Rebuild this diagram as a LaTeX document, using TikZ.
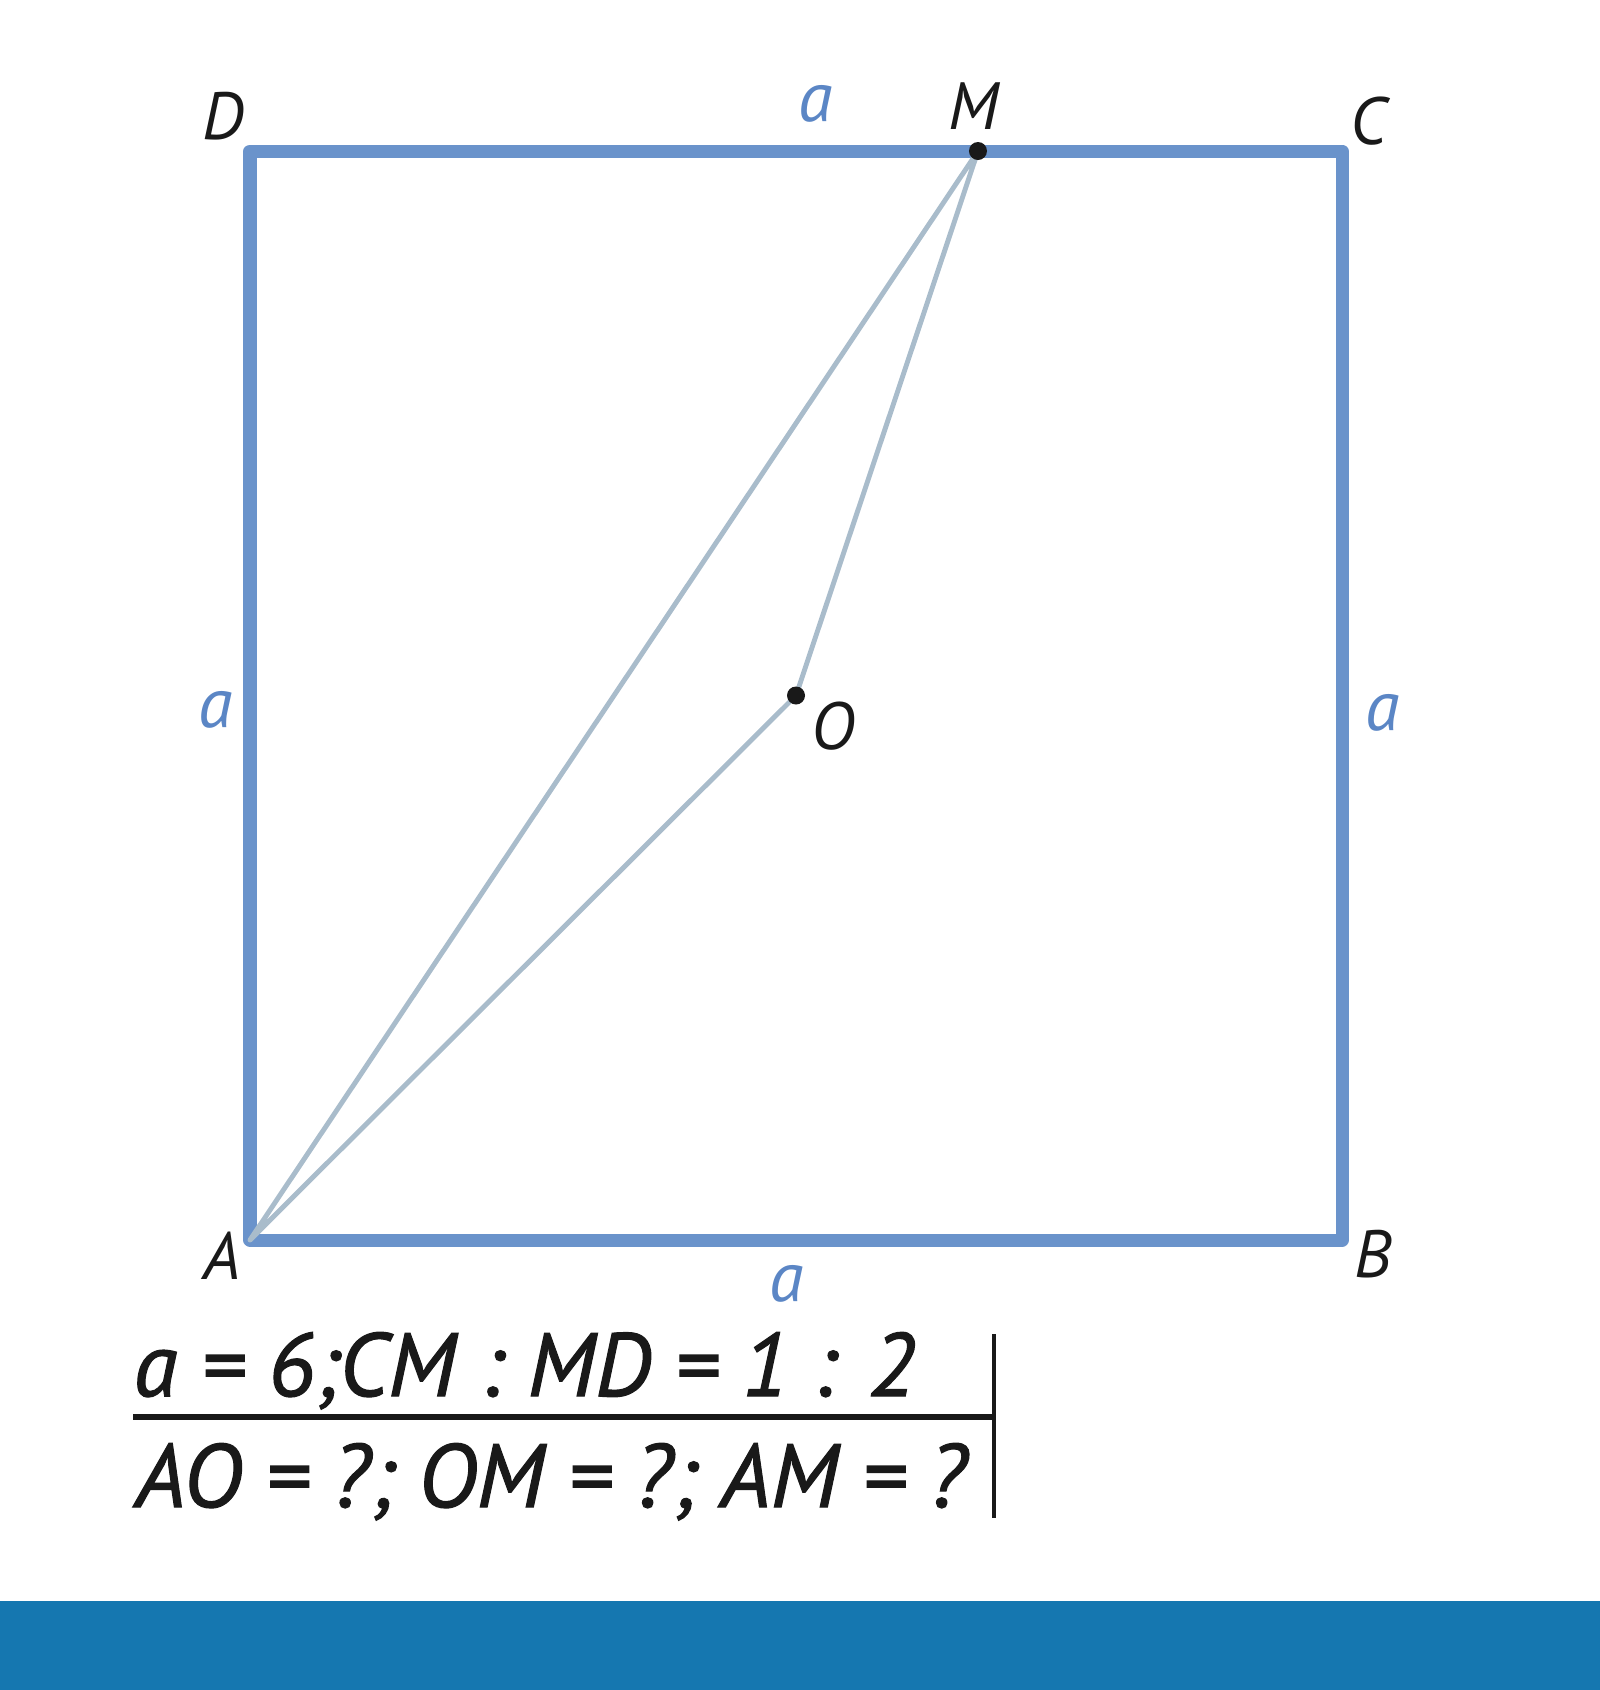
\documentclass[tikz,border=0pt]{standalone}
\usepackage{fontspec}
\setmainfont{PT Sans}
\newfontfamily\condfont[FakeBold=1.3]{PT Sans}
\usetikzlibrary{calc}
\definecolor{sqblue}{HTML}{6A93CB}
\definecolor{segray}{HTML}{A9BCCB}
\definecolor{labblue}{HTML}{5B86C5}
\definecolor{bandblue}{HTML}{1577B0}

\begin{document}
\begin{tikzpicture}[x=0.01cm,y=-0.01cm,
  side/.style={draw=sqblue,line width=3.7pt,line join=round},
  seg/.style={draw=segray,line width=1.4pt,line join=round},
  lab/.style={font=\fontsize{19}{22}\selectfont\itshape,text=black!90},
  blab/.style={font=\fontsize{20}{23}\selectfont\itshape,text=labblue},
  cond/.style={font=\condfont\fontsize{25.5}{30}\selectfont\itshape,text=black!90,anchor=base west,inner sep=0pt}]
      \useasboundingbox (0,0) rectangle (1600,1690);

      %顶点
      \coordinate (A) at (250,1240);
      \coordinate (B) at (1342,1240);
      \coordinate (C) at (1342,151);
      \coordinate (D) at (250,151);
      \coordinate (M) at ($(D)!2/3!(C)$);
      \coordinate (O) at ($(A)!0.5!(C)$);

      %正方形与线段
      \draw[side] (A) -- (B) -- (C) -- (D) -- cycle;
      \draw[seg] (A) -- (M) -- (O) -- cycle;
      \foreach \p in {M,O}
      	\fill[black!90] (\p) circle (9);

      %字母
      \node[lab] (lA) at (222,1256) {A};
      \node[lab] (lB) at (1373,1254) {B};
      \node[lab] (lC) at (1369,121) {C};
      \node[lab] (lD) at (223,116) {D};
      \node[lab] (lM) at (974,106) {M};
      \node[lab] (lO) at (833,726) {O};

      \node[blab] (aT) at (816,104) {a};
      \node[blab] (aL) at (216,710) {a};
      \node[blab] (aR) at (1383,713) {a};
      \node[blab] (aB) at (787,1284) {a};

      %条件
      \node[cond] (given) at (133,1396) {a = 6;CM : MD = 1 : 2};
      \node[cond] (find) at (135,1507) {AO = ?; OM = ?; AM = ?};
      \coordinate (hl) at (133,1417);
      \coordinate (hr) at (994,1417);
      \coordinate (vt) at (994,1334);
      \coordinate (vb) at (994,1518);
      \draw[line width=1.6pt,black!90] (hl) -- (hr);
      \draw[line width=1.2pt,black!90] (vt) -- (vb);

      \fill[bandblue] (0,1601) rectangle (1600,1690);
      \end{tikzpicture}
\end{document}
